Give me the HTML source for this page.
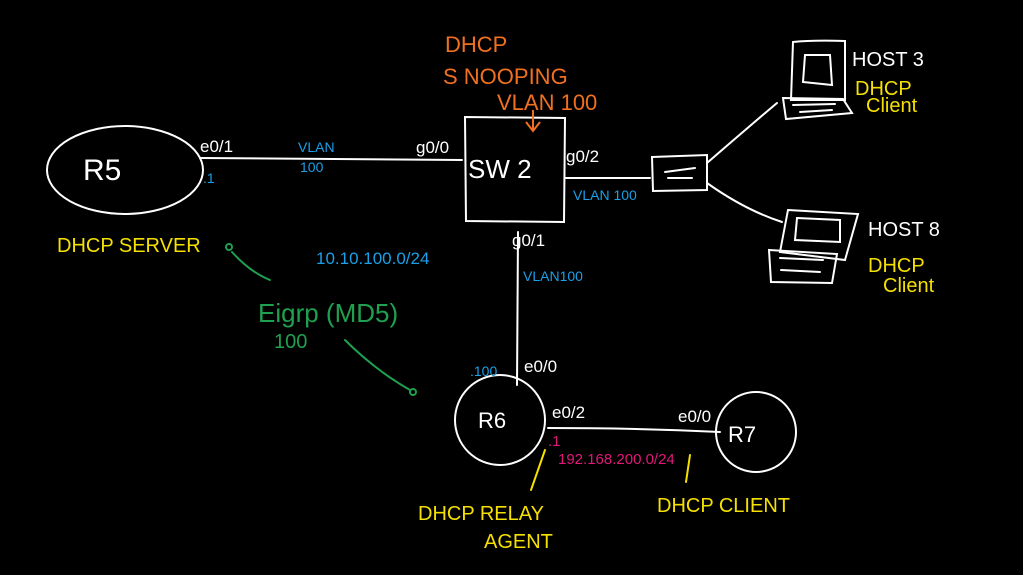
<!DOCTYPE html>
<html><head><style>
html,body{margin:0;padding:0;background:#000;}
svg{display:block}
text{font-family:"Liberation Sans",sans-serif;}
</style></head><body>
<svg width="1023" height="575" viewBox="0 0 1023 575" xmlns="http://www.w3.org/2000/svg">
<rect width="1023" height="575" fill="#000"/>
<g fill="none" stroke="#fff" stroke-width="2" stroke-linecap="round">
<ellipse cx="125" cy="170" rx="78" ry="44"/>
<path d="M200 158 L462 160"/>
<path d="M465 117 L565 118 L564 222 L466 221 Z"/>
<path d="M565 178 L650 178"/>
<path d="M652 157 L707 155 L707 190 L653 191 Z"/>
<path d="M665 172 L695 168 M668 178 L692 178"/>
<path d="M707 163 Q745 130 777 103"/>
<path d="M707 183 Q745 210 782 222"/>
<!-- host3 -->
<path d="M793 42 Q812 40 845 41 L845 100 L791 100 Z"/>
<path d="M805 55 L830 55 L832 85 L803 82 Z"/>
<path d="M783 98 L843 99 L852 113 L786 119 Z"/>
<path d="M793 105 L835 104 M800 112 L832 110"/>
<!-- host8 -->
<path d="M788 210 L858 214 L845 260 L780 252 Z"/>
<path d="M797 218 L840 220 L840 242 L795 240 Z"/>
<path d="M769 250 L837 254 L832 283 L771 282 Z"/>
<path d="M780 258 L823 260 M781 270 L820 272"/>
<path d="M518 232 L517 385"/>
<circle cx="500" cy="420" r="45"/>
<path d="M548 428 Q640 428 720 432"/>
<circle cx="756" cy="432" r="40"/>
</g>
<g fill="none" stroke="#f5e000" stroke-width="2" stroke-linecap="round">
<path d="M545 450 L531 490"/>
<path d="M690 455 L686 482"/>
</g>
<g fill="none" stroke="#1fa050" stroke-width="2" stroke-linecap="round">
<circle cx="229" cy="247" r="3"/>
<path d="M232 252 Q250 272 270 280"/>
<path d="M345 340 Q375 370 410 390"/>
<circle cx="413" cy="392" r="3"/>
</g>
<path d="M533 110 L533 130 M526 122 L533 131 L540 122" stroke="#f07020" stroke-width="2" fill="none"/>
<g fill="#fff" font-size="17">
<text x="83" y="180" font-size="30">R5</text>
<text x="200" y="152">e0/1</text>
<text x="416" y="153">g0/0</text>
<text x="468" y="178" font-size="26">SW 2</text>
<text x="566" y="162">g0/2</text>
<text x="852" y="66" font-size="20">HOST 3</text>
<text x="868" y="236" font-size="20">HOST 8</text>
<text x="512" y="246">g0/1</text>
<text x="524" y="372">e0/0</text>
<text x="478" y="428" font-size="22">R6</text>
<text x="552" y="418">e0/2</text>
<text x="678" y="422">e0/0</text>
<text x="728" y="442" font-size="22">R7</text>
</g>
<g fill="#1aa0e8" font-size="14">
<text x="203" y="183">.1</text>
<text x="298" y="152">VLAN</text>
<text x="300" y="172">100</text>
<text x="573" y="200">VLAN 100</text>
<text x="316" y="264" font-size="17">10.10.100.0/24</text>
<text x="523" y="281">VLAN100</text>
<text x="470" y="376">.100</text>
</g>
<g fill="#e0187a" font-size="15">
<text x="548" y="446">.1</text>
<text x="558" y="464">192.168.200.0/24</text>
</g>
<g fill="#f07020" font-size="22">
<text x="445" y="52">DHCP</text>
<text x="443" y="84">S NOOPING</text>
<text x="497" y="110">VLAN 100</text>
</g>
<g fill="#f5e000" font-size="20">
<text x="57" y="252">DHCP SERVER</text>
<text x="855" y="95">DHCP</text>
<text x="866" y="112">Client</text>
<text x="868" y="272">DHCP</text>
<text x="883" y="292">Client</text>
<text x="418" y="520">DHCP RELAY</text>
<text x="484" y="548">AGENT</text>
<text x="657" y="512">DHCP CLIENT</text>
</g>
<g fill="#1fa050">
<text x="258" y="322" font-size="26">Eigrp (MD5)</text>
<text x="274" y="348" font-size="20">100</text>
</g>
</svg>
</body></html>
